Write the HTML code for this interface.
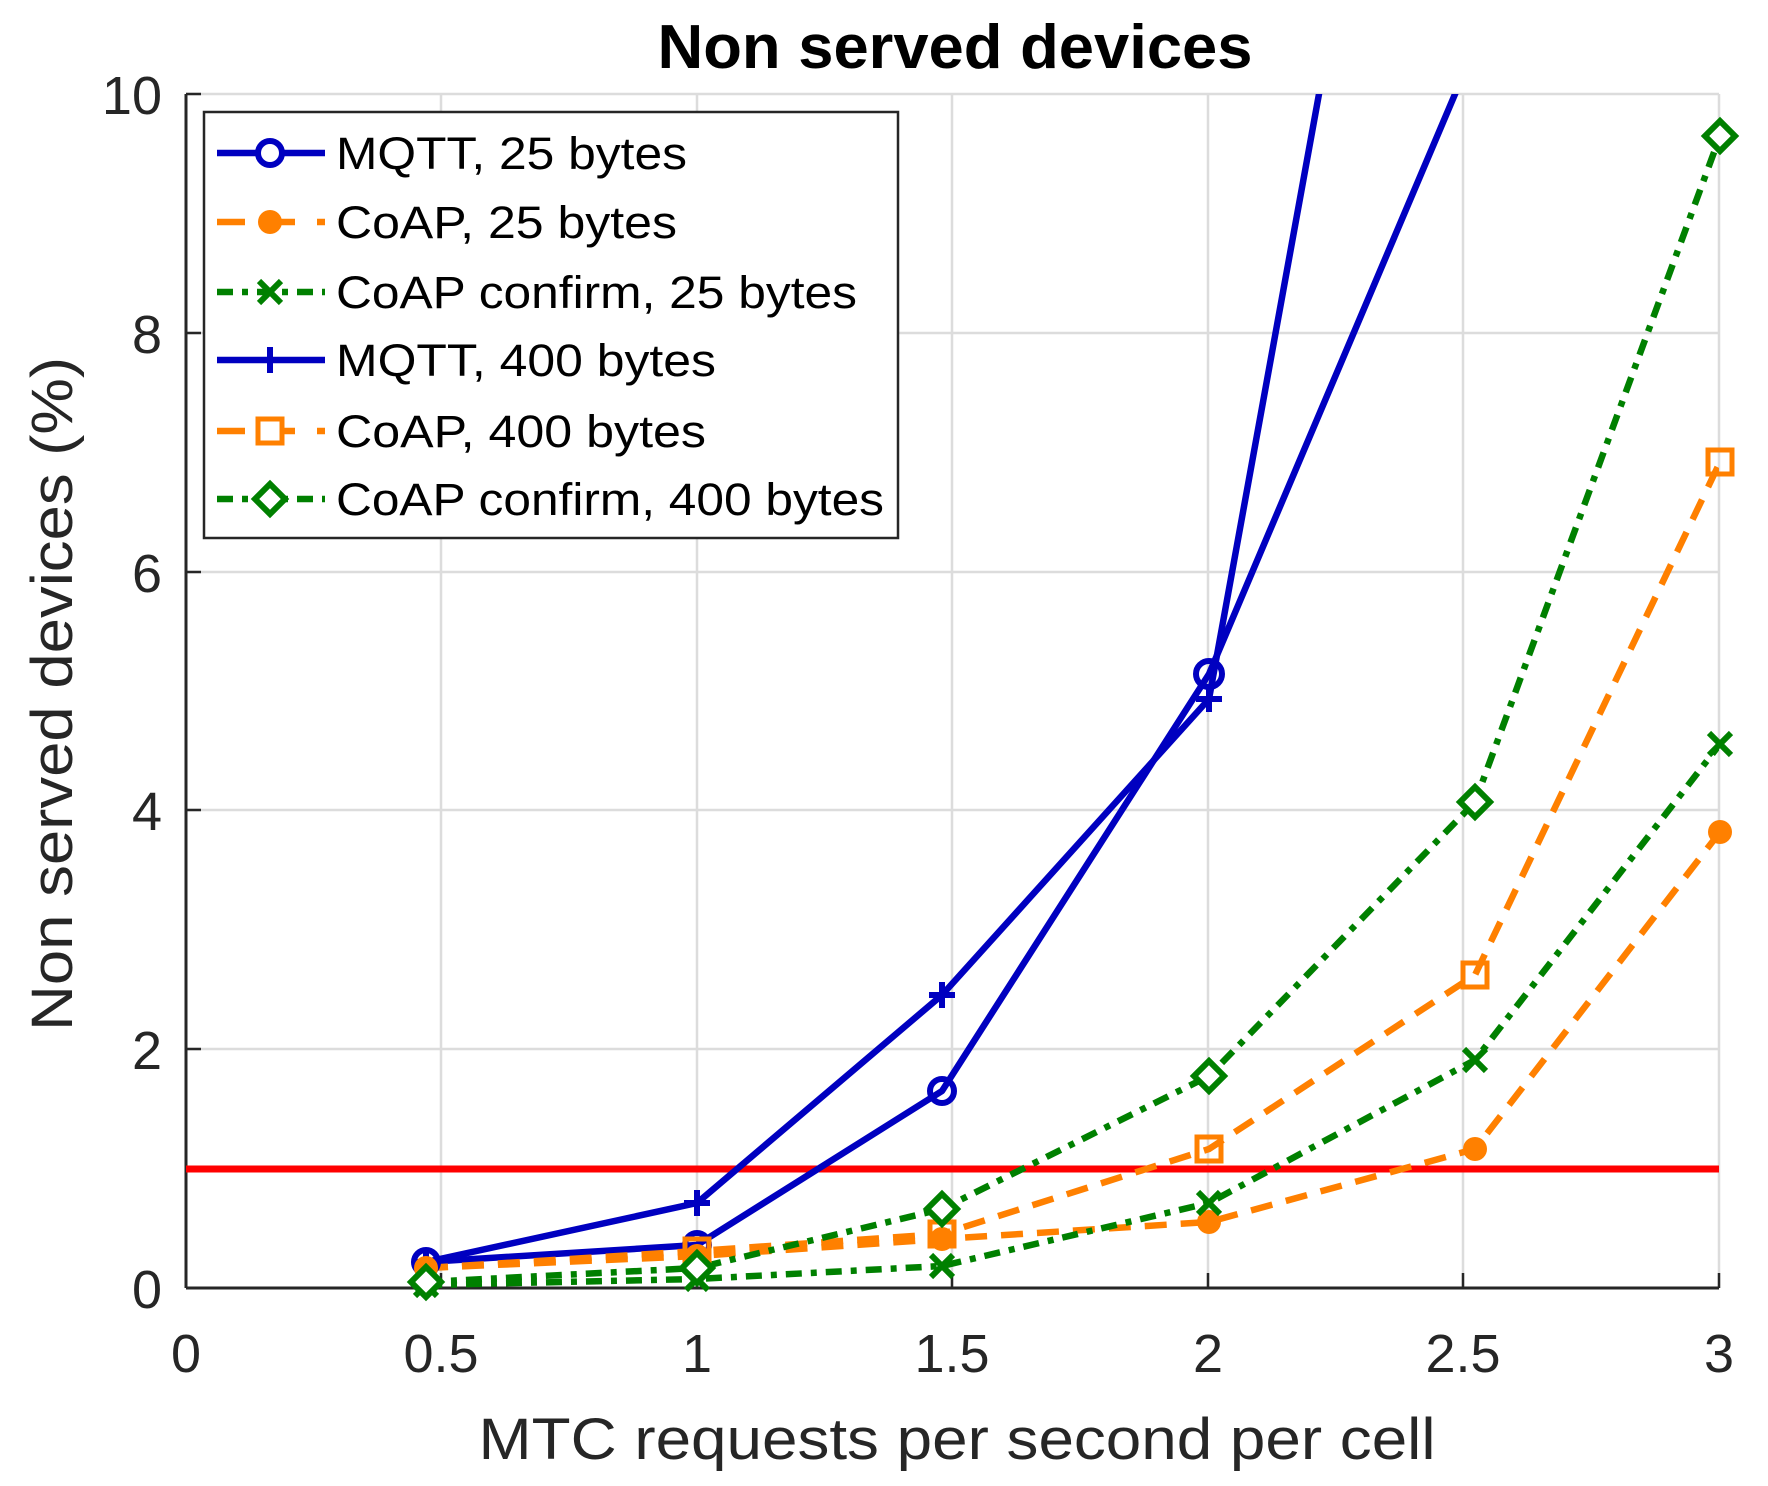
<!DOCTYPE html>
<html><head><meta charset="utf-8"><style>html,body{margin:0;padding:0;background:#fff}svg{display:block}</style></head>
<body>
<svg width="1768" height="1486" viewBox="0 0 1768 1486" xmlns="http://www.w3.org/2000/svg" font-family="Liberation Sans, Arial, sans-serif">
<defs><clipPath id="c"><rect x="186" y="94" width="1533" height="1194"/></clipPath></defs>
<rect width="1768" height="1486" fill="#fff"/>
<g stroke="#dcdcdc" stroke-width="2.5">
<line x1="441" y1="94" x2="441" y2="1288"/><line x1="697" y1="94" x2="697" y2="1288"/><line x1="952" y1="94" x2="952" y2="1288"/><line x1="1208" y1="94" x2="1208" y2="1288"/><line x1="1463" y1="94" x2="1463" y2="1288"/><line x1="1719" y1="94" x2="1719" y2="1288"/>
<line x1="186" y1="1049" x2="1719" y2="1049"/><line x1="186" y1="810" x2="1719" y2="810"/><line x1="186" y1="572" x2="1719" y2="572"/><line x1="186" y1="333" x2="1719" y2="333"/><line x1="186" y1="94" x2="1719" y2="94"/>
</g>
<g stroke="#262626" stroke-width="3">
<line x1="186" y1="1288" x2="1719" y2="1288"/><line x1="186" y1="94" x2="186" y2="1288"/>
<g stroke-width="2.5"><line x1="441" y1="1288" x2="441" y2="1273"/><line x1="697" y1="1288" x2="697" y2="1273"/><line x1="952" y1="1288" x2="952" y2="1273"/><line x1="1208" y1="1288" x2="1208" y2="1273"/><line x1="1463" y1="1288" x2="1463" y2="1273"/><line x1="1719" y1="1288" x2="1719" y2="1273"/>
<line x1="186" y1="1049" x2="201" y2="1049"/><line x1="186" y1="810" x2="201" y2="810"/><line x1="186" y1="572" x2="201" y2="572"/><line x1="186" y1="333" x2="201" y2="333"/><line x1="186" y1="94" x2="201" y2="94"/></g>
</g>
<g fill="#262626" font-size="54">
<g text-anchor="middle"><text x="186" y="1372">0</text><text x="441" y="1372">0.5</text><text x="697" y="1372">1</text><text x="952" y="1372">1.5</text><text x="1208" y="1372">2</text><text x="1463" y="1372">2.5</text><text x="1719" y="1372">3</text></g>
<g text-anchor="end"><text x="162" y="1308">0</text><text x="162" y="1069">2</text><text x="162" y="830">4</text><text x="162" y="592">6</text><text x="162" y="353">8</text><text x="162" y="114">10</text></g>
<text x="957" y="1459" text-anchor="middle" font-size="58" textLength="957" lengthAdjust="spacingAndGlyphs">MTC requests per second per cell</text>
<text transform="translate(72,694) rotate(-90)" text-anchor="middle" font-size="58" textLength="674" lengthAdjust="spacingAndGlyphs">Non served devices (%)</text>
</g>
<text x="955" y="68" text-anchor="middle" font-size="62" font-weight="bold" fill="#000" textLength="595" lengthAdjust="spacingAndGlyphs">Non served devices</text>
<line x1="186" y1="1169" x2="1719" y2="1169" stroke="#ff0000" stroke-width="7"/>
<g clip-path="url(#c)" fill="none" stroke-width="6.5" stroke-linejoin="round">
<polyline stroke="#0000c0" points="426,1262 697,1245 942,1091 1209,674 1475,47"/>
<polyline stroke="#0000c0" points="426,1262 697,1203 942,995 1209,699 1475,-764"/>
<polyline stroke="#ff8000" stroke-dasharray="22 14" points="426,1268 697,1256 942,1239 1209,1222 1475,1149 1720,832"/>
<polyline stroke="#ff8000" stroke-dasharray="22 14" points="426,1268 697,1251 942,1234 1209,1149 1475,975 1720,462"/>
<polyline stroke="#008000" stroke-dasharray="16 9 6 9" points="426,1285 697,1279 942,1266 1209,1203 1475,1060 1720,744"/>
<polyline stroke="#008000" stroke-dasharray="16 9 6 9" points="426,1282 697,1268 942,1209 1209,1076 1475,802 1720,136"/>
</g>
<g fill="none" stroke-width="6">
<g stroke="#0000c0"><circle cx="426" cy="1262" r="12"/><circle cx="697" cy="1245" r="12"/><circle cx="942" cy="1091" r="12"/><circle cx="1209" cy="674" r="13"/></g>
<g stroke="#0000c0"><path d="M426 1249v26M413 1262h26M697 1190v26M684 1203h26M942 982v26M929 995h26M1209 686v26M1196 699h26"/></g>
<g fill="#ff8000"><circle cx="426" cy="1268" r="12"/><circle cx="697" cy="1256" r="12"/><circle cx="942" cy="1239" r="12"/><circle cx="1209" cy="1222" r="12"/><circle cx="1475" cy="1149" r="12"/><circle cx="1720" cy="832" r="12"/></g>
<g stroke="#ff8000" stroke-width="5"><rect x="1197" y="1137" width="24" height="24"/><rect x="1463" y="963" width="24" height="24"/><rect x="1708" y="450" width="24" height="24"/><rect x="930" y="1222" width="24" height="24"/><rect x="685" y="1239" width="24" height="24"/></g>
<g stroke="#008000"><path d="M415 1274l22 22M437 1274l-22 22M686 1268l22 22M708 1268l-22 22M931 1255l22 22M953 1255l-22 22M1198 1192l22 22M1220 1192l-22 22M1464 1049l22 22M1486 1049l-22 22M1709 733l22 22M1731 733l-22 22"/></g>
<g stroke="#008000" fill="#fff"><path d="M426 1267l15 15-15 15-15-15zM697 1253l15 15-15 15-15-15zM942 1194l15 15-15 15-15-15zM1209 1061l15 15-15 15-15-15zM1475 787l15 15-15 15-15-15zM1720 121l15 15-15 15-15-15z"/></g>
</g>
<rect x="204" y="112" width="694" height="426" fill="#fff" stroke="#262626" stroke-width="2.5"/>
<g stroke-width="6.5" fill="none">
<line x1="217" y1="153" x2="325" y2="153" stroke="#0000c0"/><circle cx="270" cy="153" r="12" stroke="#0000c0" stroke-width="6" fill="#fff"/>
<line x1="217" y1="222" x2="325" y2="222" stroke="#ff8000" stroke-dasharray="28 22"/><circle cx="270" cy="222" r="12" fill="#ff8000" stroke="none"/>
<line x1="217" y1="292" x2="325" y2="292" stroke="#008000" stroke-dasharray="16 9 6 9"/><path d="M259 281l22 22M281 281l-22 22" stroke="#008000" stroke-width="6"/>
<line x1="217" y1="360" x2="325" y2="360" stroke="#0000c0"/><path d="M270 347v26" stroke="#0000c0" stroke-width="6"/>
<line x1="217" y1="431" x2="325" y2="431" stroke="#ff8000" stroke-dasharray="28 22"/><rect x="258" y="419" width="24" height="24" stroke="#ff8000" stroke-width="5" fill="#fff"/>
<line x1="217" y1="499" x2="325" y2="499" stroke="#008000" stroke-dasharray="16 9 6 9"/><path d="M270 484l15 15-15 15-15-15z" stroke="#008000" stroke-width="6" fill="#fff"/>
</g>
<g font-size="45" fill="#000">
<text x="336" y="169" textLength="351" lengthAdjust="spacingAndGlyphs">MQTT, 25 bytes</text>
<text x="336" y="238" textLength="341" lengthAdjust="spacingAndGlyphs">CoAP, 25 bytes</text>
<text x="336" y="308" textLength="521" lengthAdjust="spacingAndGlyphs">CoAP confirm, 25 bytes</text>
<text x="336" y="376" textLength="380" lengthAdjust="spacingAndGlyphs">MQTT, 400 bytes</text>
<text x="336" y="447" textLength="370" lengthAdjust="spacingAndGlyphs">CoAP, 400 bytes</text>
<text x="336" y="515" textLength="548" lengthAdjust="spacingAndGlyphs">CoAP confirm, 400 bytes</text>
</g>
</svg>
</body></html>
